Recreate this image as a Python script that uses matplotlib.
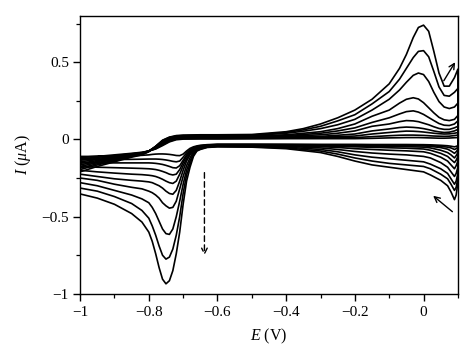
import matplotlib
matplotlib.use("Agg")
import matplotlib.pyplot as plt
from matplotlib.ticker import MultipleLocator

plt.rcParams['font.family'] = ['Liberation Serif', 'DejaVu Serif']
plt.rcParams['mathtext.fontset'] = 'custom'
plt.rcParams['mathtext.rm'] = 'Liberation Serif'
plt.rcParams['mathtext.it'] = 'Liberation Serif:italic'

# potential grids (V)
anodic_E = [-1.0, -0.95, -0.9, -0.85, -0.82, -0.8, -0.78, -0.76, -0.74, -0.72, -0.7, -0.65, -0.6, -0.5,
            -0.4, -0.35, -0.3, -0.25, -0.2, -0.15, -0.1, -0.07, -0.05, -0.03, -0.015, 0.0, 0.015, 0.03,
            0.045, 0.06, 0.075, 0.09, 0.1]
cathodic_E = [0.1, 0.095, 0.09, 0.08, 0.07, 0.05, 0.02, 0.0, -0.05, -0.1, -0.15, -0.2, -0.25, -0.3,
              -0.4, -0.5, -0.6, -0.63, -0.65, -0.66, -0.67, -0.68, -0.69, -0.70, -0.71, -0.72, -0.73,
              -0.74, -0.75, -0.76, -0.77, -0.78, -0.79, -0.80, -0.82, -0.85, -0.9, -0.95, -1.0]

# anodic branch currents (uA), one per voltammogram
a0 = [-0.21, -0.175, -0.145, -0.115, -0.1, -0.08, -0.045, -0.005, 0.015, 0.025, 0.028, 0.03, 0.03, 0.032,
      0.05, 0.07, 0.1, 0.14, 0.19, 0.26, 0.36, 0.46, 0.55, 0.66, 0.725, 0.74, 0.70, 0.57, 0.43, 0.345,
      0.345, 0.40, 0.455]
a1 = [-0.195, -0.165, -0.14, -0.11, -0.097, -0.078, -0.045, -0.007, 0.013, 0.022, 0.025, 0.027, 0.027,
      0.028, 0.045, 0.062, 0.085, 0.12, 0.16, 0.23, 0.31, 0.39, 0.46, 0.53, 0.57, 0.575, 0.535, 0.44,
      0.34, 0.285, 0.28, 0.305, 0.33]
a2 = [-0.185, -0.158, -0.135, -0.108, -0.095, -0.076, -0.045, -0.01, 0.011, 0.02, 0.023, 0.024, 0.024,
      0.025, 0.04, 0.053, 0.07, 0.095, 0.13, 0.19, 0.26, 0.32, 0.37, 0.415, 0.43, 0.42, 0.375, 0.305,
      0.245, 0.21, 0.2, 0.21, 0.235]
a3 = [-0.175, -0.15, -0.13, -0.105, -0.093, -0.075, -0.047, -0.012, 0.008, 0.017, 0.02, 0.021, 0.021,
      0.022, 0.03, 0.04, 0.05, 0.07, 0.1, 0.15, 0.19, 0.235, 0.26, 0.27, 0.262, 0.238, 0.205, 0.172,
      0.143, 0.127, 0.122, 0.13, 0.155]
a4 = [-0.165, -0.143, -0.125, -0.102, -0.092, -0.075, -0.05, -0.015, 0.005, 0.014, 0.017, 0.018, 0.018,
      0.019, 0.025, 0.032, 0.04, 0.055, 0.075, 0.11, 0.14, 0.165, 0.18, 0.185, 0.177, 0.162, 0.142,
      0.122, 0.103, 0.092, 0.09, 0.1, 0.12]
a5 = [-0.155, -0.137, -0.12, -0.1, -0.09, -0.075, -0.052, -0.02, 0.001, 0.011, 0.014, 0.015, 0.015,
      0.016, 0.02, 0.025, 0.03, 0.04, 0.055, 0.085, 0.1, 0.115, 0.122, 0.12, 0.115, 0.105, 0.095,
      0.082, 0.071, 0.065, 0.065, 0.075, 0.085]
a6 = [-0.145, -0.13, -0.115, -0.098, -0.088, -0.075, -0.055, -0.025, -0.003, 0.008, 0.011, 0.012, 0.012,
      0.013, 0.015, 0.018, 0.02, 0.027, 0.035, 0.055, 0.068, 0.077, 0.08, 0.078, 0.075, 0.07, 0.063,
      0.055, 0.049, 0.045, 0.047, 0.055, 0.065]
a7 = [-0.135, -0.123, -0.11, -0.095, -0.087, -0.075, -0.058, -0.03, -0.007, 0.005, 0.008, 0.009, 0.009,
      0.01, 0.01, 0.012, 0.015, 0.018, 0.022, 0.035, 0.045, 0.051, 0.054, 0.053, 0.051, 0.048, 0.044,
      0.04, 0.037, 0.035, 0.036, 0.04, 0.045]
a8 = [-0.125, -0.116, -0.105, -0.093, -0.085, -0.075, -0.06, -0.035, -0.012, 0.002, 0.005, 0.006, 0.006,
      0.007, 0.008, 0.009, 0.01, 0.011, 0.012, 0.018, 0.024, 0.027, 0.028, 0.028, 0.027, 0.026, 0.024,
      0.022, 0.021, 0.02, 0.021, 0.025, 0.028]
a9 = [-0.115, -0.11, -0.1, -0.09, -0.083, -0.075, -0.062, -0.04, -0.016, -0.002, 0.002, 0.003, 0.003,
      0.004, 0.005, 0.005, 0.005, 0.005, 0.005, 0.007, 0.01, 0.011, 0.012, 0.012, 0.012, 0.011, 0.01,
      0.009, 0.008, 0.008, 0.009, 0.011, 0.012]

# cathodic branch currents (uA)
c0 = [-0.28, -0.36, -0.39, -0.34, -0.3, -0.265, -0.23, -0.21, -0.195, -0.18, -0.165, -0.14, -0.11, -0.085,
      -0.06, -0.05, -0.048, -0.052, -0.065, -0.075, -0.11, -0.18, -0.27, -0.42, -0.6, -0.74, -0.85,
      -0.915, -0.935, -0.905, -0.83, -0.74, -0.66, -0.6, -0.535, -0.48, -0.42, -0.38, -0.353]
c1 = [-0.25, -0.31, -0.33, -0.29, -0.255, -0.225, -0.19, -0.175, -0.165, -0.155, -0.14, -0.12, -0.095,
      -0.075, -0.055, -0.048, -0.046, -0.05, -0.062, -0.072, -0.1, -0.16, -0.23, -0.35, -0.5, -0.62,
      -0.71, -0.762, -0.775, -0.75, -0.69, -0.62, -0.56, -0.51, -0.46, -0.415, -0.37, -0.335, -0.315]
c2 = [-0.22, -0.27, -0.29, -0.255, -0.22, -0.19, -0.16, -0.145, -0.135, -0.125, -0.115, -0.1, -0.08,
      -0.065, -0.05, -0.045, -0.044, -0.047, -0.058, -0.068, -0.09, -0.14, -0.2, -0.29, -0.4, -0.5,
      -0.58, -0.615, -0.61, -0.58, -0.53, -0.48, -0.44, -0.41, -0.385, -0.36, -0.33, -0.3, -0.28]
c3 = [-0.18, -0.22, -0.24, -0.21, -0.18, -0.15, -0.12, -0.11, -0.1, -0.095, -0.088, -0.078, -0.065,
      -0.055, -0.045, -0.042, -0.042, -0.045, -0.054, -0.063, -0.08, -0.12, -0.17, -0.24, -0.32, -0.4,
      -0.44, -0.445, -0.43, -0.41, -0.38, -0.36, -0.345, -0.335, -0.32, -0.31, -0.29, -0.265, -0.25]
c4 = [-0.14, -0.17, -0.19, -0.165, -0.14, -0.115, -0.09, -0.08, -0.074, -0.07, -0.065, -0.06, -0.052,
      -0.047, -0.042, -0.04, -0.04, -0.043, -0.05, -0.058, -0.072, -0.1, -0.14, -0.2, -0.27, -0.33,
      -0.355, -0.35, -0.335, -0.315, -0.3, -0.29, -0.28, -0.275, -0.27, -0.265, -0.255, -0.24, -0.225]
c5 = [-0.11, -0.135, -0.15, -0.13, -0.11, -0.09, -0.07, -0.062, -0.057, -0.054, -0.051, -0.048, -0.045,
      -0.042, -0.04, -0.038, -0.038, -0.041, -0.047, -0.054, -0.066, -0.09, -0.125, -0.17, -0.225,
      -0.27, -0.285, -0.28, -0.27, -0.258, -0.248, -0.24, -0.235, -0.232, -0.228, -0.225, -0.218,
      -0.21, -0.2]
c6 = [-0.085, -0.105, -0.12, -0.1, -0.085, -0.07, -0.055, -0.05, -0.047, -0.045, -0.044, -0.043, -0.042,
      -0.04, -0.038, -0.036, -0.036, -0.039, -0.045, -0.051, -0.062, -0.082, -0.11, -0.15, -0.195,
      -0.225, -0.23, -0.225, -0.215, -0.207, -0.2, -0.195, -0.192, -0.19, -0.188, -0.186, -0.183,
      -0.18, -0.175]
c7 = [-0.065, -0.08, -0.09, -0.075, -0.063, -0.053, -0.045, -0.042, -0.041, -0.04, -0.039, -0.038,
      -0.037, -0.036, -0.035, -0.034, -0.034, -0.037, -0.043, -0.049, -0.058, -0.075, -0.1, -0.135,
      -0.17, -0.185, -0.183, -0.175, -0.168, -0.162, -0.158, -0.155, -0.153, -0.152, -0.152, -0.152,
      -0.152, -0.152, -0.15]
c8 = [-0.05, -0.06, -0.065, -0.055, -0.05, -0.045, -0.04, -0.038, -0.037, -0.036, -0.036, -0.035,
      -0.035, -0.035, -0.034, -0.033, -0.033, -0.036, -0.041, -0.046, -0.053, -0.067, -0.087, -0.115,
      -0.14, -0.145, -0.142, -0.137, -0.133, -0.13, -0.128, -0.127, -0.127, -0.127, -0.128, -0.129,
      -0.13, -0.13, -0.13]
c9 = [-0.04, -0.045, -0.048, -0.044, -0.041, -0.038, -0.035, -0.034, -0.033, -0.033, -0.033, -0.032,
      -0.032, -0.032, -0.031, -0.031, -0.031, -0.034, -0.038, -0.042, -0.048, -0.058, -0.075, -0.095,
      -0.105, -0.104, -0.1, -0.097, -0.095, -0.094, -0.094, -0.095, -0.097, -0.1, -0.103, -0.106,
      -0.108, -0.11, -0.11]

anodic = [a0, a1, a2, a3, a4, a5, a6, a7, a8, a9]
cathodic = [c0, c1, c2, c3, c4, c5, c6, c7, c8, c9]

x_ticks = [-1.0, -0.8, -0.6, -0.4, -0.2, 0.0]
x_tick_labels = ['\u22121', '\u22120.8', '\u22120.6', '\u22120.4', '\u22120.2', '0']
y_ticks = [-1.0, -0.5, 0.0, 0.5]
y_tick_labels = ['\u22121', '\u22120.5', '0', '0.5']

fig = plt.figure(figsize=(4.74, 3.61), dpi=100)
ax = fig.add_axes([0.169, 0.186, 0.797, 0.770])

for a, c in zip(anodic, cathodic):
    assert len(a) == len(anodic_E) and len(c) == len(cathodic_E)
    xs = anodic_E + cathodic_E + [anodic_E[0]]
    ys = a + c + [a[0]]
    ax.plot(xs, ys, color='black', lw=1.2, solid_joinstyle='round')

ax.set_xlim(-1.0, 0.1)
ax.set_ylim(-1.0, 0.8)
ax.set_xticks(x_ticks)
ax.set_xticklabels(x_tick_labels)
ax.set_yticks(y_ticks)
ax.set_yticklabels(y_tick_labels)
ax.xaxis.set_minor_locator(MultipleLocator(0.1))
ax.yaxis.set_minor_locator(MultipleLocator(0.25))
ax.tick_params(which='major', direction='out', length=5, width=1.0, labelsize=11, pad=3)
ax.tick_params(axis='x', which='major', pad=4)
ax.tick_params(which='minor', direction='out', length=3, width=0.9)
for s in ax.spines.values():
    s.set_linewidth(1.0)

ax.set_xlabel(r'$E$ (V)', fontsize=11.5, labelpad=5)
ax.set_ylabel(r'$I$ ($\mu$A)', fontsize=11.5, labelpad=6)

# annotation arrows
ax.annotate('', xy=(-0.638, -0.75), xytext=(-0.638, -0.215),
            arrowprops=dict(arrowstyle='->', lw=1.0, ls=(0, (4, 2.5)), color='black',
                            mutation_scale=10, shrinkA=0, shrinkB=0))
ax.annotate('', xy=(0.092, 0.5), xytext=(0.059, 0.38),
            arrowprops=dict(arrowstyle='->', lw=1.0, color='black', mutation_scale=10,
                            shrinkA=0, shrinkB=0))
ax.annotate('', xy=(0.028, -0.365), xytext=(0.084, -0.468),
            arrowprops=dict(arrowstyle='->', lw=1.0, color='black', mutation_scale=10,
                            shrinkA=0, shrinkB=0))

fig.savefig('out.png', dpi=100)
